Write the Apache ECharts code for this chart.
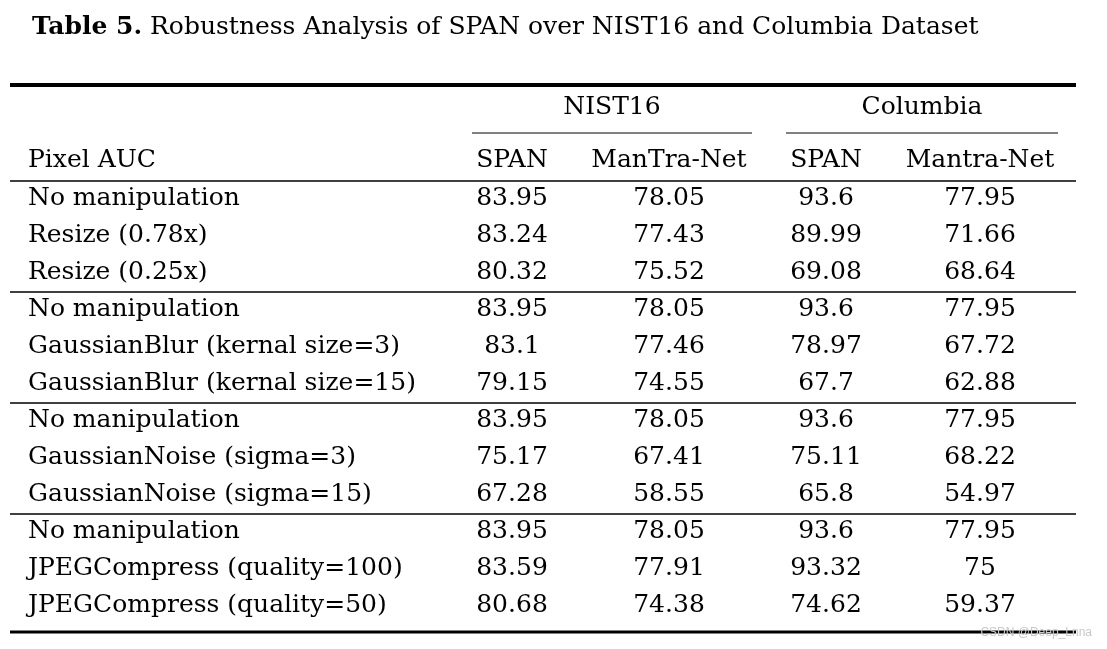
<!DOCTYPE html>
<html lang="en">
  <head>
    <meta charset="UTF-8" />
    <title>Table 5</title>
    <script src="https://cdn.jsdelivr.net/npm/echarts@6/dist/echarts.min.js"></script>
    <style>
      body { margin: 0; background: #fff; }
      .echarts { width: 1107px; height: 649px; }
    </style>
  </head>
  <body>
    <div class="echarts"></div>
    <script>
      // table contents
      const rowNames = [
        'No manipulation', 'Resize (0.78x)', 'Resize (0.25x)',
        'No manipulation', 'GaussianBlur (kernal size=3)', 'GaussianBlur (kernal size=15)',
        'No manipulation', 'GaussianNoise (sigma=3)', 'GaussianNoise (sigma=15)',
        'No manipulation', 'JPEGCompress (quality=100)', 'JPEGCompress (quality=50)'
      ]
      const nistSpan = ['83.95', '83.24', '80.32', '83.95', '83.1', '79.15', '83.95', '75.17', '67.28', '83.95', '83.59', '80.68']
      const nistMantra = ['78.05', '77.43', '75.52', '78.05', '77.46', '74.55', '78.05', '67.41', '58.55', '78.05', '77.91', '74.38']
      const colSpan = ['93.6', '89.99', '69.08', '93.6', '78.97', '67.7', '93.6', '75.11', '65.8', '93.6', '93.32', '74.62']
      const colMantra = ['77.95', '71.66', '68.64', '77.95', '67.72', '62.88', '77.95', '68.22', '54.97', '77.95', '75', '59.37']
      const subHeaders = ['SPAN', 'ManTra-Net', 'SPAN', 'Mantra-Net']

      const font = 'DejaVu Serif'
      const fs = 25
      const colX = [512, 669, 826, 980] // column centres
      const valueCols = [nistSpan, nistMantra, colSpan, colMantra]

      const cells = []
      valueCols.forEach((col, j) => col.forEach((v, i) => cells.push([colX[j], i, v])))
      const names = rowNames.map((n, i) => [28, i, n])

      const myCharts = echarts.init(document.querySelector('.echarts'))

      const hLine = (x1, x2, y, w) => ({
        type: 'line',
        shape: { x1, y1: y, x2, y2: y },
        style: { stroke: '#000', lineWidth: w }
      })
      const txt = (x, y, text, align) => ({
        type: 'text', x, y,
        style: { text, fill: '#000', font: fs + 'px "' + font + '"', align: align || 'center', verticalAlign: 'middle' }
      })

      const option = {
        animation: false,
        grid: { left: 0, right: 0, top: 180, height: 444 },
        xAxis: { type: 'value', min: 0, max: 1107, show: false },
        yAxis: { type: 'category', inverse: true, data: rowNames.map((n, i) => i), show: false },
        graphic: [
          {
            type: 'text', x: 32, y: 27,
            style: {
              text: '{b|Table 5.} Robustness Analysis of SPAN over NIST16 and Columbia Dataset',
              align: 'left', verticalAlign: 'middle',
              rich: {
                b: { font: 'bold ' + fs + 'px "' + font + '"', fill: '#000' }
              },
              font: fs + 'px "' + font + '"', fill: '#000'
            }
          },
          hLine(10, 1076, 85, 4),
          txt(612, 107, 'NIST16'),
          txt(922, 107, 'Columbia'),
          hLine(472, 752, 133, 1),
          hLine(786, 1058, 133, 1),
          txt(28, 160, 'Pixel AUC', 'left'),
          ...subHeaders.map((h, j) => txt(colX[j], 160, h)),
          hLine(10, 1076, 181, 1.3),
          hLine(10, 1076, 292, 1.3),
          hLine(10, 1076, 403, 1.3),
          hLine(10, 1076, 514, 1.3),
          hLine(10, 1076, 632, 3),
          {
            type: 'text', x: 1092, y: 633,
            style: { text: 'CSDN @Deep_Lnna', fill: '#c8c8c8', font: '12px sans-serif', align: 'right', verticalAlign: 'middle' }
          }
        ],
        series: [
          {
            type: 'scatter', symbolSize: 0, data: names,
            itemStyle: { opacity: 1 },
            label: {
              show: true, position: 'right', distance: 0,
              formatter: p => p.value[2], color: '#000', fontFamily: font, fontSize: fs
            }
          },
          {
            type: 'scatter', symbolSize: 0, data: cells,
            itemStyle: { opacity: 1 },
            label: {
              show: true, position: 'inside',
              formatter: p => p.value[2], color: '#000', fontFamily: font, fontSize: fs
            }
          }
        ]
      }
      myCharts.setOption(option)
    </script>
  </body>
</html>
